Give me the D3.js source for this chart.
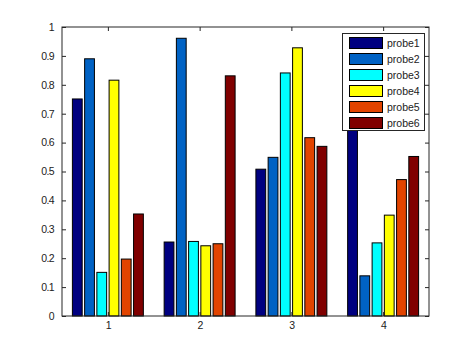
<!DOCTYPE html>
<html><head><meta charset="utf-8">
<script src="https://cdn.jsdelivr.net/npm/d3@7"></script>
<style>body{margin:0;background:#fff}svg{display:block}text{font-family:Arial,"Liberation Sans",sans-serif}</style>
</head><body><svg id="c" width="474" height="355"></svg>
<script>
const categories = [1, 2, 3, 4];
const seriesNames = ["probe1","probe2","probe3","probe4","probe5","probe6"];
const probe1 = [0.751, 0.256, 0.508, 0.70];
const probe2 = [0.890, 0.961, 0.549, 0.139];
const probe3 = [0.151, 0.258, 0.841, 0.253];
const probe4 = [0.816, 0.243, 0.928, 0.349];
const probe5 = [0.197, 0.250, 0.617, 0.472];
const probe6 = [0.353, 0.831, 0.587, 0.552];
const colors = ["#000080","#0062c4","#00ffff","#ffff00","#e24400","#800000"];
const yTicks = [0,0.1,0.2,0.3,0.4,0.5,0.6,0.7,0.8,0.9,1];
const series = [probe1, probe2, probe3, probe4, probe5, probe6];

const svg = d3.select("#c");
const L = 62, R = 429, T = 27, B = 316;
const x = d3.scaleLinear().domain([0.5, 4.5]).range([L, R]);
const y = d3.scaleLinear().domain([0, 1]).range([B, T]);
const n = series.length, gw = 0.8, slot = gw / n, bw = slot * 0.8;

const g = svg.append("g");
series.forEach((s, i) => {
  g.selectAll(null).data(categories.map((c, j) => ({c, v: s[j]}))).enter()
    .append("rect")
    .attr("x", d => x(d.c - gw/2 + slot*(i+0.5) - bw/2))
    .attr("width", d => x(d.c - gw/2 + slot*(i+0.5) + bw/2) - x(d.c - gw/2 + slot*(i+0.5) - bw/2))
    .attr("y", d => y(d.v))
    .attr("height", d => y(0) - y(d.v))
    .attr("fill", colors[i]).attr("stroke", "#000").attr("stroke-width", 1);
});

const tl = 4;
const axc = "#262626";
const xb = d3.axisBottom(x).tickValues(categories).tickSize(-tl).tickPadding(6).tickFormat(d3.format("d"));
const gx = svg.append("g").attr("transform", `translate(0,${B})`).call(xb);
const yl = d3.axisLeft(y).tickValues(yTicks).tickSize(-tl).tickPadding(8).tickFormat(d => d === 0 ? "0" : d === 1 ? "1" : d3.format(".1f")(d));
const gy = svg.append("g").attr("transform", `translate(${L},0)`).call(yl);
const xt = d3.axisTop(x).tickValues(categories).tickSize(-tl).tickFormat("");
const gxt = svg.append("g").attr("transform", `translate(0,${T})`).call(xt);
const yr = d3.axisRight(y).tickValues(yTicks).tickSize(-tl).tickFormat("");
const gyr = svg.append("g").attr("transform", `translate(${R},0)`).call(yr);
[gx, gy, gxt, gyr].forEach(a => {
  a.select(".domain").remove();
  a.selectAll("line").attr("stroke", axc);
  a.selectAll("text").attr("fill", "#222").style("font-size", "10.5px")
    .style("letter-spacing", "-0.6px")
    .style("font-family", "Arial, 'Liberation Sans', sans-serif");
});
svg.append("rect").attr("x", L).attr("y", T).attr("width", R - L).attr("height", B - T)
  .attr("fill", "none").attr("stroke", axc).attr("stroke-width", 1);

const lg = svg.append("g");
lg.append("rect").attr("x", 342.5).attr("y", 33.5).attr("width", 82).attr("height", 97)
  .attr("fill", "#fff").attr("stroke", axc);
seriesNames.forEach((nm, i) => {
  const cy = 43 + i * 16;
  lg.append("rect").attr("x", 349.5).attr("y", cy - 5.5).attr("width", 33).attr("height", 11)
    .attr("fill", colors[i]).attr("stroke", "#000");
  lg.append("text").attr("x", 387).attr("y", cy + 4).text(nm)
    .attr("fill", "#222").style("font-size", "10.5px");
});
</script></body></html>
